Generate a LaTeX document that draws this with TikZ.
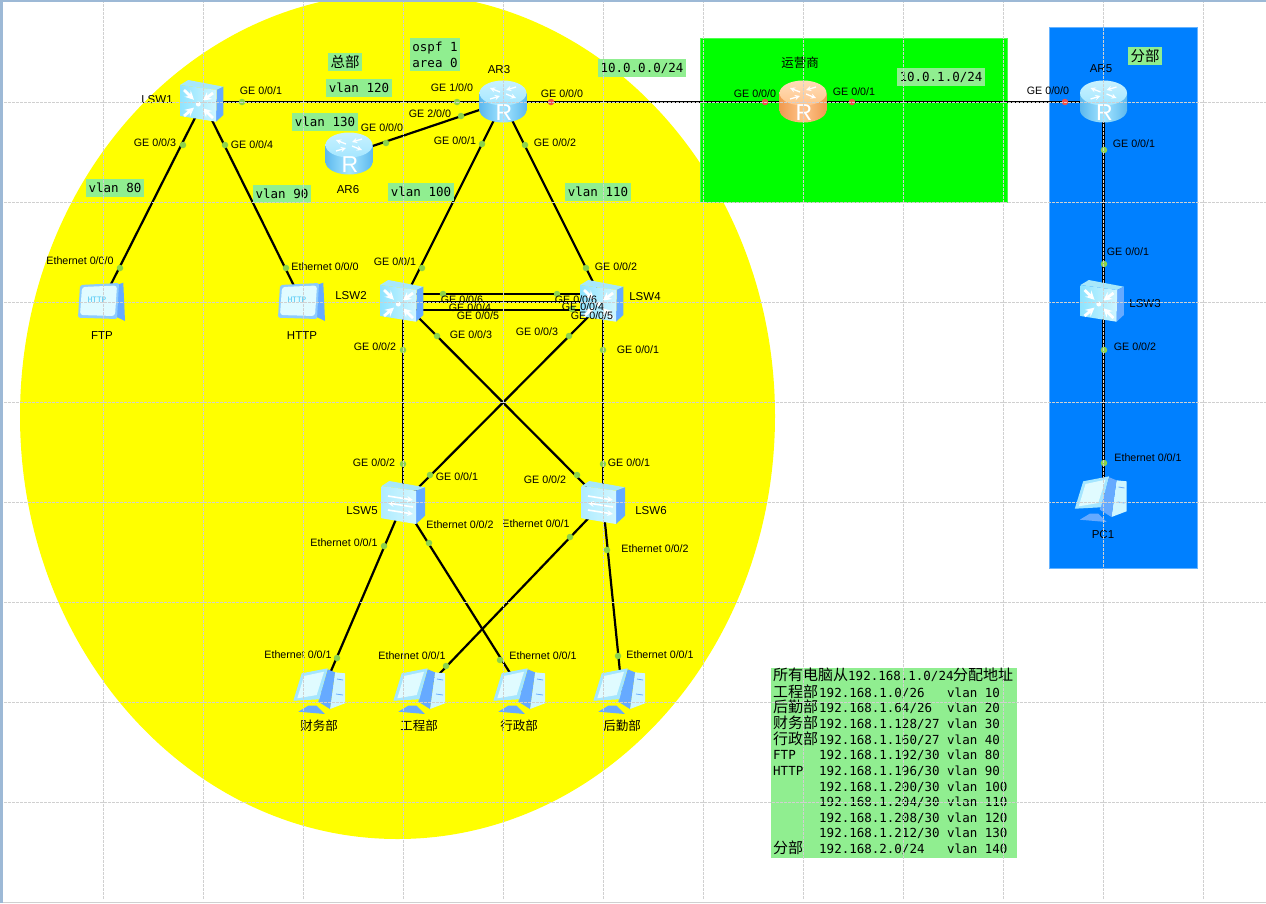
\documentclass[tikz,border=0pt]{standalone}
\usepackage{fontspec}
\setmainfont{Liberation Sans}
\newfontfamily\cjkfont{Noto Sans CJK SC}
\newfontfamily\tagfont{DejaVu Sans Mono}

\definecolor{tagback}{HTML}{90EE90}
\definecolor{gridgray}{HTML}{D0D0D0}
\definecolor{portgreen}{HTML}{8CD24A}
\definecolor{portred}{HTML}{F2504A}
\definecolor{hqyellow}{HTML}{FFFF00}
\definecolor{ispgreen}{HTML}{00FF00}
\definecolor{netblue}{HTML}{0080FF}
\definecolor{icontop}{HTML}{A8E8FA}
\definecolor{iconside}{HTML}{66AAFF}
\definecolor{iconfrontl}{HTML}{8FE4FF}
\definecolor{iconfrontr}{HTML}{D0F6FF}
\definecolor{iconscreen}{HTML}{E0FBFF}
\definecolor{iconframe}{HTML}{8CCBFF}
\definecolor{routerside}{HTML}{5DB8EE}
\definecolor{routermid}{HTML}{A5E6FF}
\definecolor{routertop}{HTML}{C8F2FF}
\definecolor{ispside}{HTML}{F09A50}
\definecolor{ispmid}{HTML}{FFC48C}
\definecolor{isptop}{HTML}{FFDDB8}
\definecolor{edgeblue}{HTML}{9DB9D6}

\tikzset{
	% router: side colour / middle colour / top colour
	pics/routerpic/.style n args={3}{code={
		\shade[left color=#1, right color=#1, middle color=#2] (-23.5,-9) rectangle (23.5,8);
		\shade[left color=#1, right color=#1, middle color=#2] (0,8) ellipse [x radius=23.5, y radius=12.5];
		\shade[top color=#3, bottom color=#2] (0,-9) ellipse [x radius=23.5, y radius=12.5];
		\draw[white, line width=1.3, -stealth] (-3,-10) -- (-13,-14);
		\draw[white, line width=1.3, -stealth] (3,-8) -- (13,-4);
		\draw[white, line width=1.3, -stealth] (13,-15) -- (3,-12);
		\draw[white, line width=1.3, -stealth] (-13,-3) -- (-3,-6);
		\node[text=white, inner sep=0pt, font=\fontsize{23}{23}\selectfont] (-R) at (1,11) {R};
	}},
	% switch with the four arrows to the middle
	pics/corepic/.style={code={
		\fill[icontop] (-23,-17) -- (-14.7,-22) -- (20.3,-15.3) -- (13.7,-12) -- cycle;
		\fill[iconside] (13.7,-12) -- (20.3,-15.3) -- (20.3,13) -- (13,19.7) -- cycle;
		\shade[left color=iconfrontl, right color=iconfrontr] (-23,-17) -- (13.7,-12) -- (13,19.7) -- (-23,14) -- cycle;
		\foreach \ax/\ay in {-19/-12, 10/-9, -19/14, 10/16}
			\draw[white, line width=2.8, -stealth] (\ax,\ay) -- ({-4.7+(\ax+4.7)*0.3},{2+(\ay-2)*0.3});
		\fill[white] (-4.7,2) circle (2.5);
	}},
	% switch with the arrows side by side
	pics/accesspic/.style={code={
		\fill[icontop] (-21.3,-17) -- (-13.7,-22) -- (22,-15.7) -- (13,-12.3) -- cycle;
		\fill[iconside] (13,-12.3) -- (22,-15.7) -- (22,12.7) -- (13,21) -- cycle;
		\shade[left color=iconfrontl!70!white, right color=iconfrontr] (-21.3,-17) -- (13,-12.3) -- (13,21) -- (-21.3,15.3) -- cycle;
		\draw[white, line width=1.6, -stealth] (-15,-7) -- (10,-3);
		\draw[white, line width=1.6, -stealth] (10,4) -- (-15,0);
		\draw[white, line width=1.6, -stealth] (-15,7) -- (10,11);
	}},
	pics/serverpic/.style={code={
		\fill[iconside] (15.3,-17.3) -- (21.3,-19.3) -- (23,19) -- (14,14.7) -- cycle;
		\fill[rounded corners=2pt, iconframe] (-22,-17) -- (17,-19) -- (15,17) -- (-24,15.7) -- cycle;
		\fill[rounded corners=3pt, iconscreen] (-20,-15) -- (15,-16.5) -- (13,14) -- (-22,13) -- cycle;
		\node[text=cyan!70, inner sep=0pt, font=\tagfont\fontsize{7.5}{8}\selectfont] (-T) at (-5,-2) {HTTP};
	}},
	pics/pcpic/.style={code={
		\fill[iconside] (-23.7,19.7) -- (-13.7,13.7) -- (-5.3,13.7) -- (3,22) -- cycle;
		\fill[iconfrontr] (13,-19.7) -- (23,-18.7) -- (23,11.3) -- (8,17) -- cycle;
		\draw[iconside, line width=0.8] (15,-13) -- (21,-12) (14,2) -- (21,3);
		\fill[iconside] (5.7,-22.7) -- (13,-19.7) -- (8,17) -- (-3.7,9.7) -- cycle;
		\fill[routermid] (-28.7,8.7) -- (-20.3,-18.7) -- (5.7,-23.7) -- (-2.7,7.3) -- cycle;
		\fill[iconscreen] (-24.7,6.3) -- (-18,-16) -- (2,-20.3) -- (-5.3,3) -- cycle;
	}}
}

\begin{document}
\begin{tikzpicture}[
	x=1pt, y=-1pt,
	% Define the style for the nodes
	device/.style={inner sep=0pt, minimum size=0pt},
	port/.style={circle, fill=portgreen, inner sep=0pt, minimum size=6.5pt},
	redport/.style={circle, fill=portred, inner sep=0pt, minimum size=6.5pt},
	portlabel/.style={inner sep=0pt, font=\fontsize{10.7}{12}\selectfont},
	name label/.style={inner sep=0pt, font=\fontsize{11.5}{13}\selectfont},
	cjk label/.style={inner sep=0pt, font=\cjkfont\fontsize{12.5}{14}\selectfont},
	tag/.style={fill=tagback, inner xsep=2.5pt, inner ysep=0pt, minimum height=18pt, font=\tagfont\fontsize{12.5}{16}\selectfont},
	cjk tag/.style={tag, font=\cjkfont\fontsize{14.5}{16}\selectfont},
	table text/.style={inner sep=0pt, anchor=base west, font=\tagfont\fontsize{12.5}{15}\selectfont},
	table cjk/.style={inner sep=0pt, anchor=base west, font=\cjkfont\fontsize{15}{15}\selectfont},
	link/.style={line width=2.2pt, black},
	gridline/.style={gridgray, line width=1pt, dash pattern=on 3pt off 1pt}
	]

	\clip (0,0) rectangle (1266,903);
	\fill[white] (0,0) rectangle (1266,903);

	% --- AREAS ---
	\fill[hqyellow] (397.5,416) ellipse [x radius=377.5, y radius=423];
	\draw[fill=ispgreen, draw=ispgreen!70!white] (700,38) rectangle (1007,202);
	\draw[fill=netblue, draw=netblue!60!white] (1049,27) rectangle (1197,568);

	% --- VERTICES ---
	% Format: \node (internal_name) at (x,y) [style] {};
	\node[device] (lsw1) at (203,102) {};
	\node[device] (ar3) at (503,102) {};
	\node[device] (ar6) at (349,154) {};
	\node[device] (isp) at (803,102) {};
	\node[device] (ar5) at (1103.5,102) {};
	\node[device] (ftp) at (102,302) {};
	\node[device] (http) at (302,302) {};
	\node[device] (lsw2) at (403,302) {};
	\node[device] (lsw4) at (603,302) {};
	\node[device] (lsw3) at (1103.5,302) {};
	\node[device] (lsw5) at (403,503) {};
	\node[device] (lsw6) at (603,503) {};
	\node[device] (pc1) at (1103.5,500) {};
	\node[device] (fin) at (322,692) {};
	\node[device] (eng) at (422,692) {};
	\node[device] (adm) at (522,692) {};
	\node[device] (log) at (622,692) {};

	% --- EDGES ---
	\draw[link] (lsw1) -- (ar3); % Top edge
	\draw[link] (lsw1) -- (ftp);
	\draw[link] (lsw1) -- (http);
	\draw[link] (ar3) -- (ar6);
	\draw[link] (ar3) -- (lsw2);
	\draw[link] (ar3) -- (lsw4);
	\draw[link] (ar3) -- (isp);
	\draw[link] (isp) -- (ar5);
	\draw[link] (ar5) -- (lsw3);
	\draw[link] (lsw3) -- (pc1);
	\draw[link] ([yshift=8pt]lsw2.center) -- ([yshift=8pt]lsw4.center); % Three between LSW2 and LSW4
	\draw[link] (lsw2) -- (lsw4);
	\draw[link] ([yshift=-8pt]lsw2.center) -- ([yshift=-8pt]lsw4.center);
	\draw[link] (lsw2) -- (lsw5);
	\draw[link] (lsw4) -- (lsw6);
	\draw[link] (lsw2) -- (lsw6); % Diagonal 1
	\draw[link] (lsw4) -- (lsw5); % Diagonal 2
	\draw[link] (lsw5) -- (fin);
	\draw[link] (lsw5) -- (adm);
	\draw[link] (lsw6) -- (eng);
	\draw[link] (lsw6) -- (log);

	% --- ICONS ---
	\pic (lsw1pic) at (lsw1) {corepic};
	\pic (lsw2pic) at (lsw2) {corepic};
	\pic (lsw4pic) at (lsw4) {corepic};
	\pic (lsw3pic) at (lsw3) {corepic};
	\pic (lsw5pic) at (lsw5) {accesspic};
	\pic (lsw6pic) at (lsw6) {accesspic};
	\pic (ar3pic) at (ar3) {routerpic={routerside}{routermid}{routertop}};
	\pic (ar6pic) at (ar6) {routerpic={routerside}{routermid}{routertop}};
	\pic (ar5pic) at (ar5) {routerpic={routerside}{routermid}{routertop}};
	\pic (isppic) at (isp) {routerpic={ispside}{ispmid}{isptop}};
	\pic (ftppic) at (ftp) {serverpic};
	\pic (httppic) at (http) {serverpic};
	\pic (pc1pic) at (pc1) {pcpic};
	\pic (finpic) at (fin) {pcpic};
	\pic (engpic) at (eng) {pcpic};
	\pic (admpic) at (adm) {pcpic};
	\pic (logpic) at (log) {pcpic};

	% --- PORTS ---
	\node[port] (p1) at (242,102) {};
	\node[port] (p2) at (183,145) {};
	\node[port] (p3) at (225,145) {};
	\node[port] (p4) at (120,268) {};
	\node[port] (p5) at (286,268) {};
	\node[port] (p6) at (457,102) {};
	\node[port] (p7) at (461,116) {};
	\node[port] (p8) at (386,143) {};
	\node[port] (p9) at (482,144) {};
	\node[port] (p10) at (525,145) {};
	\node[port] (p11) at (422,268) {};
	\node[port] (p12) at (586,268) {};
	\node[port] (p13) at (443,294) {};
	\node[port] (p14) at (557,294) {};
	\node[port] (p18) at (572,309) {};
	\node[port] (p19) at (437,336) {};
	\node[port] (p20) at (569,336) {};
	\node[port] (p21) at (403,350) {};
	\node[port] (p22) at (603,350) {};
	\node[port] (p23) at (403,464) {};
	\node[port] (p24) at (603,464) {};
	\node[port] (p25) at (430,475) {};
	\node[port] (p26) at (577,475) {};
	\node[port] (p27) at (384,546) {};
	\node[port] (p28) at (429,543) {};
	\node[port] (p29) at (570,537) {};
	\node[port] (p30) at (607,550) {};
	\node[port] (p31) at (337,658) {};
	\node[port] (p32) at (446,666) {};
	\node[port] (p33) at (500,660) {};
	\node[port] (p34) at (618,656) {};
	\node[port] (p35) at (1104,150) {};
	\node[port] (p36) at (1104,264) {};
	\node[port] (p37) at (1104,350) {};
	\node[port] (p38) at (1104,463) {};
	\node[redport] (p39) at (551,102) {};
	\node[redport] (p40) at (765,102) {};
	\node[redport] (p41) at (852,102) {};
	\node[redport] (p42) at (1065,102) {};

	% --- PORT LABELS ---
	\node[portlabel] (t1) at (261,91) {GE 0/0/1};
	\node[portlabel] (t2) at (155,143) {GE 0/0/3};
	\node[portlabel] (t3) at (252,145) {GE 0/0/4};
	\node[portlabel] (t4) at (80,261) {Ethernet 0/0/0};
	\node[portlabel] (t5) at (325,267) {Ethernet 0/0/0};
	\node[portlabel] (t6) at (452,88) {GE 1/0/0};
	\node[portlabel] (t7) at (430,114) {GE 2/0/0};
	\node[portlabel] (t8) at (382,128) {GE 0/0/0};
	\node[portlabel] (t9) at (455,141) {GE 0/0/1};
	\node[portlabel] (t10) at (555,143) {GE 0/0/2};
	\node[portlabel] (t11) at (562,94) {GE 0/0/0};
	\node[portlabel] (t12) at (395,262) {GE 0/0/1};
	\node[portlabel] (t13) at (616,267) {GE 0/0/2};
	\node[portlabel] (t14) at (462,300) {GE 0/0/6};
	\node[portlabel] (t15) at (470,308) {GE 0/0/4};
	\node[portlabel] (t16) at (478,316) {GE 0/0/5};
	\node[portlabel] (t17) at (576,300) {GE 0/0/6};
	\node[portlabel] (t18) at (583,307) {GE 0/0/4};
	\node[portlabel] (t19) at (592,316) {GE 0/0/5};
	\node[portlabel] (t20) at (471,335) {GE 0/0/3};
	\node[portlabel] (t21) at (537,332) {GE 0/0/3};
	\node[portlabel] (t22) at (375,347) {GE 0/0/2};
	\node[portlabel] (t23) at (638,350) {GE 0/0/1};
	\node[portlabel] (t24) at (374,463) {GE 0/0/2};
	\node[portlabel] (t25) at (457,477) {GE 0/0/1};
	\node[portlabel] (t26) at (545,480) {GE 0/0/2};
	\node[portlabel] (t27) at (629,463) {GE 0/0/1};
	\node[portlabel] (t28) at (460,525) {Ethernet 0/0/2};
	\node[portlabel] (t29) at (536,524) {Ethernet 0/0/1};
	\node[portlabel] (t30) at (344,543) {Ethernet 0/0/1};
	\node[portlabel] (t31) at (655,549) {Ethernet 0/0/2};
	\node[portlabel] (t32) at (298,655) {Ethernet 0/0/1};
	\node[portlabel] (t33) at (412,656) {Ethernet 0/0/1};
	\node[portlabel] (t34) at (543,656) {Ethernet 0/0/1};
	\node[portlabel] (t35) at (660,655) {Ethernet 0/0/1};
	\node[portlabel] (t36) at (755,94) {GE 0/0/0};
	\node[portlabel] (t37) at (854,92) {GE 0/0/1};
	\node[portlabel] (t38) at (1048,91) {GE 0/0/0};
	\node[portlabel] (t39) at (1134,144) {GE 0/0/1};
	\node[portlabel] (t40) at (1128,252) {GE 0/0/1};
	\node[portlabel] (t41) at (1135,347) {GE 0/0/2};
	\node[portlabel] (t42) at (1148,458) {Ethernet 0/0/1};

	% --- DEVICE NAMES ---
	\node[name label] (n1) at (157,100) {LSW1};
	\node[name label] (n2) at (499,70) {AR3};
	\node[name label] (n3) at (348,190) {AR6};
	\node[name label] (n4) at (1101,69) {AR5};
	\node[name label] (n5) at (351,296) {LSW2};
	\node[name label] (n6) at (645,297) {LSW4};
	\node[name label] (n7) at (1145,304) {LSW3};
	\node[name label] (n8) at (362,511) {LSW5};
	\node[name label] (n9) at (651,511) {LSW6};
	\node[name label] (n10) at (102,336) {FTP};
	\node[name label] (n11) at (302,336) {HTTP};
	\node[name label] (n12) at (1103,535) {PC1};
	\node[cjk label] (n13) at (800,63) {运营商};
	\node[cjk label] (n14) at (319,726) {财务部};
	\node[cjk label] (n15) at (419,726) {工程部};
	\node[cjk label] (n16) at (519,726) {行政部};
	\node[cjk label] (n17) at (622,726) {后勤部};

	% --- TAGS ---
	\node[cjk tag] (g1) at (345,62) {总部};
	\node[tag, align=left, minimum height=33pt] (g2) at (435,54.5) {ospf 1\\area 0};
	\node[tag] (g3) at (359,88) {vlan 120};
	\node[tag] (g4) at (325,122) {vlan 130};
	\node[tag] (g5) at (115,188) {vlan 80};
	\node[tag] (g6) at (282,194) {vlan 90};
	\node[tag] (g7) at (421,192) {vlan 100};
	\node[tag] (g8) at (598,192) {vlan 110};
	\node[tag] (g9) at (642,68) {10.0.0.0/24};
	\node[tag] (g10) at (941,77) {10.0.1.0/24};
	\node[cjk tag] (g11) at (1145,56) {分部};

	% --- ADDRESS TABLE ---
	\node[fill=tagback, inner sep=0pt, minimum width=246pt, minimum height=190pt] (tablebox) at (894,763) {};
	\node[table cjk] (r0a) at (773,680) {所有电脑从};
	\node[table text] (r0b) at (848,680) {192.168.1.0/24};
	\node[table cjk] (r0c) at (953,680) {分配地址};
	\node[table cjk] (c1) at (773,697) {工程部};
	\node[table cjk] (c2) at (773,712) {后勤部};
	\node[table cjk] (c3) at (773,728) {财务部};
	\node[table cjk] (c4) at (773,744) {行政部};
	\node[table text] (c5) at (773,759) {FTP};
	\node[table text] (c6) at (773,775) {HTTP};
	\node[table cjk] (c7) at (773,853) {分部};
	% Format: baseline / address / vlan
	\foreach \ry/\raddr/\rvlan [count=\i] in {
		697/{192.168.1.0/26}/10,
		712/{192.168.1.64/26}/20,
		728/{192.168.1.128/27}/30,
		744/{192.168.1.160/27}/40,
		759/{192.168.1.192/30}/80,
		775/{192.168.1.196/30}/90,
		791/{192.168.1.200/30}/100,
		806/{192.168.1.204/30}/110,
		822/{192.168.1.208/30}/120,
		837/{192.168.1.212/30}/130,
		853/{192.168.2.0/24}/140}
	{
		\node[table text] (addr\i) at (819,\ry) {\raddr};
		\node[table text] (vlan\i) at (947,\ry) {vlan \rvlan};
	}

	% --- GRID ---
	\foreach \gx in {103,203,...,1203}
		\draw[gridline] (\gx,0) -- (\gx,900);
	\foreach \gy in {102.7,202.7,...,802.7}
		\draw[gridline] (0,\gy) -- (1266,\gy);

	% --- WINDOW EDGE ---
	\fill[edgeblue] (0,0) rectangle (1266,2); % Top
	\fill[edgeblue] (0,0) rectangle (3,903); % Left
	\fill[gridgray] (3,902) rectangle (1266,903); % Bottom

\end{tikzpicture}
\end{document}
